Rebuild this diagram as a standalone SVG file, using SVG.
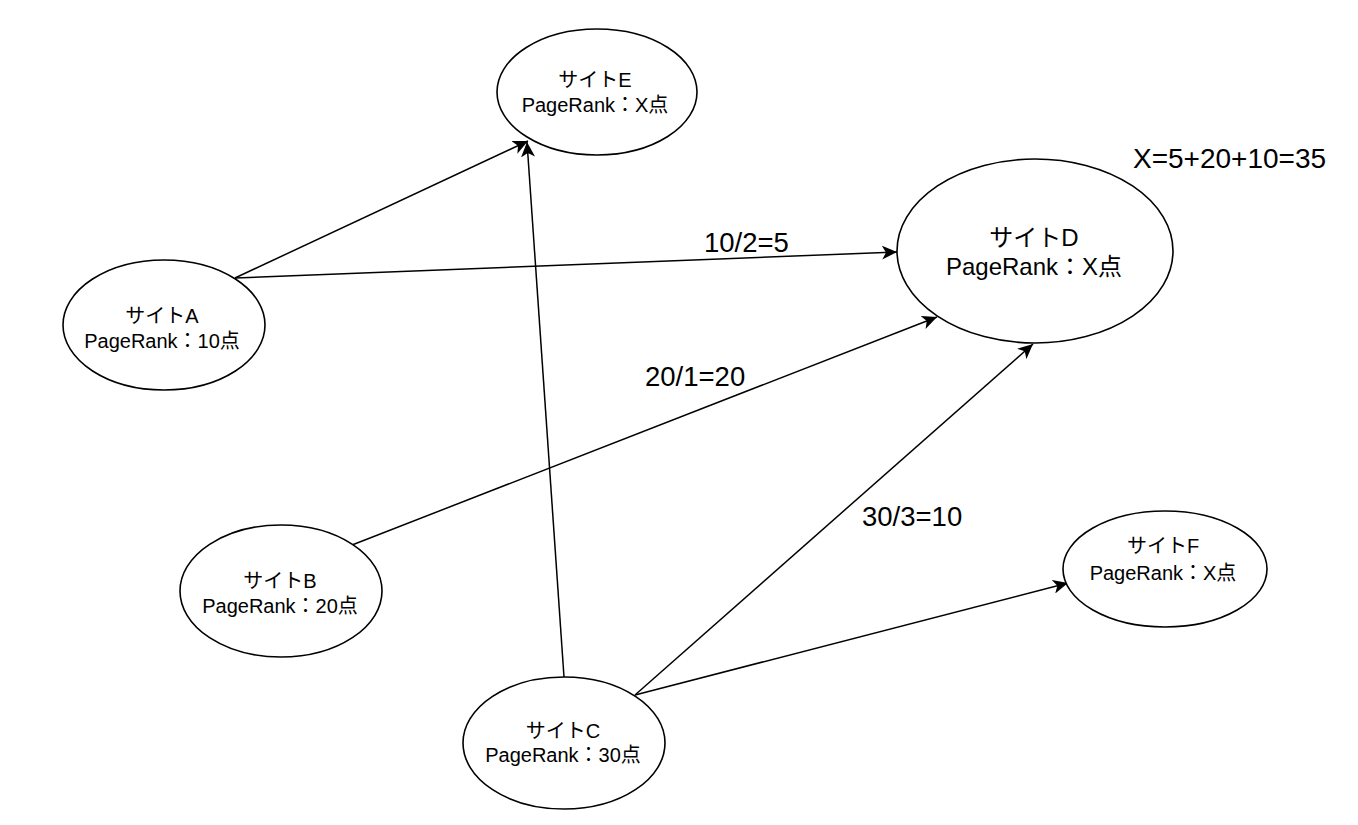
<svg xmlns="http://www.w3.org/2000/svg" width="1358" height="825" viewBox="0 0 1358 825">
<style>
.n{fill:#fff;stroke:#000;stroke-width:1.6}
.t{font-family:"Liberation Sans","Noto Sans CJK JP",sans-serif;fill:#000;text-anchor:middle;font-size:20px}
.td{font-family:"Liberation Sans","Noto Sans CJK JP",sans-serif;fill:#000;text-anchor:middle;font-size:24px}
.l{font-family:"Liberation Sans","Noto Sans CJK JP",sans-serif;fill:#000;font-size:27.5px}
.e{stroke:#000;stroke-width:1.5;fill:none;marker-end:url(#arr)}
</style>
<defs>
<marker id="arr" markerUnits="userSpaceOnUse" markerWidth="16" markerHeight="14" viewBox="0 0 16 14" refX="15" refY="7" orient="auto">
<path d="M0,0 L15,7 L0,14 L4,7 z" fill="#000"/>
</marker>
</defs>
<rect width="1358" height="825" fill="#fff"/>
<g id="connectors">
<line class="e" x1="235" y1="278" x2="528" y2="141"/>
<line class="e" x1="235" y1="278" x2="897" y2="252"/>
<line class="e" x1="352" y1="545" x2="937" y2="317"/>
<line class="e" x1="635" y1="695" x2="1033" y2="344"/>
<line class="e" x1="564" y1="677" x2="527" y2="142"/>
<line class="e" x1="635" y1="695" x2="1068" y2="583"/>
</g>
<g id="labels">
<text class="l" x="704" y="252">10/2=5</text>
<text class="l" x="645" y="386">20/1=20</text>
<text class="l" x="862" y="526">30/3=10</text>
<text class="l" x="1133" y="168" style="font-size:28px">X=5+20+10=35</text>
</g>
<g id="siteE">
<ellipse class="n" cx="597" cy="92" rx="100" ry="63"/>
<text class="t" x="595" y="87">サイトE</text>
<text class="t" x="595" y="112">PageRank：X点</text>
</g>
<g id="siteD">
<ellipse class="n" cx="1035" cy="251" rx="138" ry="92"/>
<text class="td" x="1034" y="246">サイトD</text>
<text class="td" x="1034" y="275">PageRank：X点</text>
</g>
<g id="siteA">
<ellipse class="n" cx="164" cy="325" rx="101" ry="65"/>
<text class="t" x="162" y="323">サイトA</text>
<text class="t" x="162" y="348">PageRank：10点</text>
</g>
<g id="siteB">
<ellipse class="n" cx="281" cy="591" rx="101" ry="66"/>
<text class="t" x="280" y="588">サイトB</text>
<text class="t" x="280" y="613">PageRank：20点</text>
</g>
<g id="siteC">
<ellipse class="n" cx="564" cy="743" rx="101" ry="66"/>
<text class="t" x="563" y="738">サイトC</text>
<text class="t" x="563" y="762">PageRank：30点</text>
</g>
<g id="siteF">
<ellipse class="n" cx="1165" cy="569" rx="102" ry="58"/>
<text class="t" x="1163" y="553">サイトF</text>
<text class="t" x="1163" y="580">PageRank：X点</text>
</g>
</svg>
